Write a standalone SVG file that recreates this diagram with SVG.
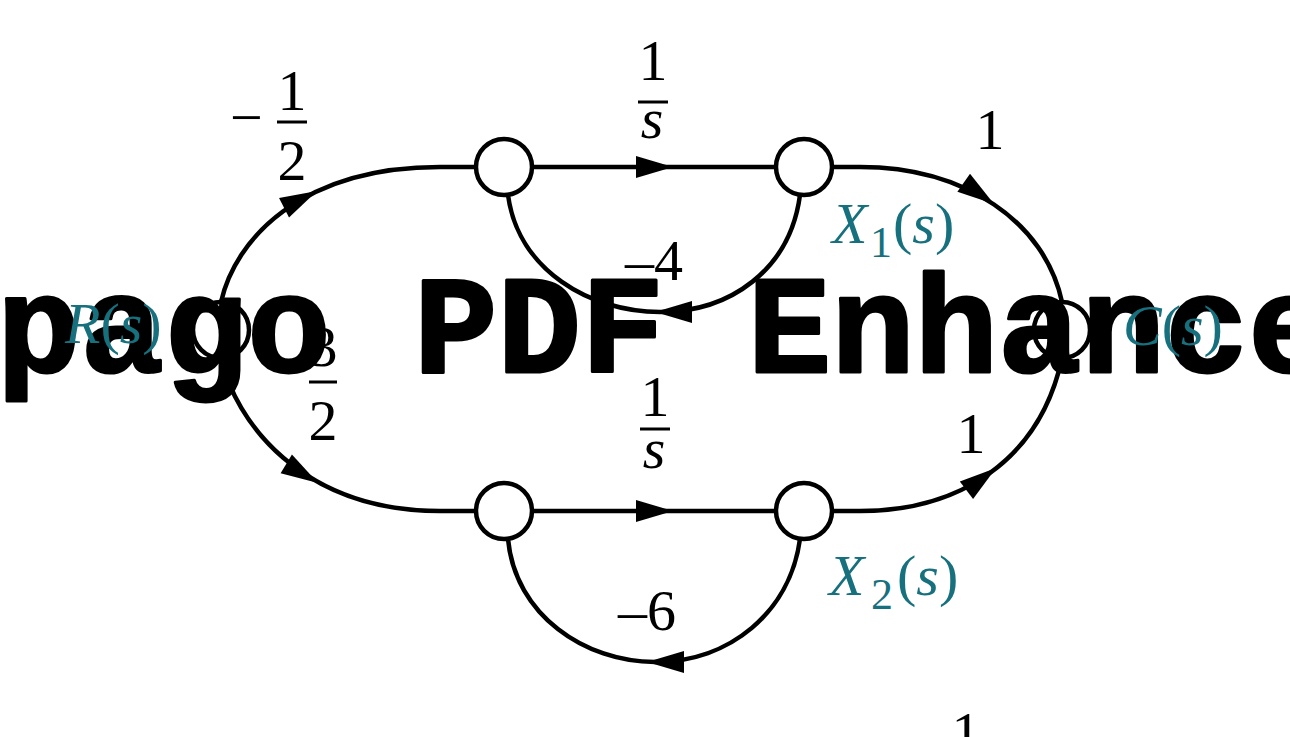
<svg xmlns="http://www.w3.org/2000/svg" xmlns:xlink="http://www.w3.org/1999/xlink" width="1290" height="737" viewBox="0 0 1290 737">
<style>
.wm{font-family:"Courier New","Nimbus Mono PS","Liberation Mono",monospace;font-weight:bold;font-size:139px;fill:#000;stroke:#000;stroke-width:3;stroke-linejoin:round}
.edge{fill:none;stroke:#000;stroke-width:4.5}
.node{fill:none;stroke:#000;stroke-width:4.5}
.lbl{font-family:"Liberation Serif","Times New Roman",serif;font-size:58px;fill:#000}
.var{font-family:"Liberation Serif","Times New Roman",serif;font-size:58px;fill:#17707e}
.it{font-style:italic}
.sub{font-size:44px}
.bar{stroke:#000;stroke-width:3}
</style>
<defs>
<path id="ah" d="M0,0 L-37,-11 L-37,11 Z" fill="#000"/>
</defs>
<rect width="1290" height="737" fill="#fff"/>
<g id="watermark">
<text class="wm" x="-3" y="372">pago PDF Enhance</text>
</g>
<g id="connectors">
<path class="edge" d="M221,302 C235,240 300,167 440,167 L476,167"/>
<path class="edge" d="M532,167 L776,167"/>
<path class="edge" d="M800,195 C790,270 730,312 660,312 C590,312 518,270 508,195"/>
<path class="edge" d="M832,167 L860,167 C965,167 1045,222 1062,302"/>
<path class="edge" d="M221,358 C235,420 300,511 440,511 L476,511"/>
<path class="edge" d="M532,511 L776,511"/>
<path class="edge" d="M800,539 C790,612 730,662 655,662 C585,662 515,615 508,539"/>
<path class="edge" d="M832,511 L860,511 C960,511 1040,460 1062,358"/>
<use xlink:href="#ah" transform="translate(317,191) rotate(-27)"/>
<use xlink:href="#ah" transform="translate(673,167)"/>
<use xlink:href="#ah" transform="translate(655,312) rotate(180)"/>
<use xlink:href="#ah" transform="translate(994,204) rotate(35)"/>
<use xlink:href="#ah" transform="translate(318,483) rotate(31)"/>
<use xlink:href="#ah" transform="translate(673,511)"/>
<use xlink:href="#ah" transform="translate(647,662) rotate(180)"/>
<use xlink:href="#ah" transform="translate(996,468) rotate(-37)"/>
<text class="lbl" x="230" y="137">−</text>
<text class="lbl" x="292" y="110" text-anchor="middle">1</text>
<line class="bar" x1="277" y1="122" x2="307" y2="122"/>
<text class="lbl" x="292" y="180" text-anchor="middle">2</text>
<text class="lbl" x="653" y="80" text-anchor="middle">1</text>
<line class="bar" x1="638" y1="102" x2="668" y2="102"/>
<text class="lbl it" x="652" y="138" text-anchor="middle">s</text>
<text class="lbl" x="625" y="280">–4</text>
<text class="lbl" x="990" y="149" text-anchor="middle">1</text>
<text class="lbl" x="323" y="366" text-anchor="middle">3</text>
<line class="bar" x1="309" y1="382" x2="337" y2="382"/>
<text class="lbl" x="323" y="440" text-anchor="middle">2</text>
<text class="lbl" x="655" y="416" text-anchor="middle">1</text>
<line class="bar" x1="640" y1="429" x2="670" y2="429"/>
<text class="lbl it" x="654" y="468" text-anchor="middle">s</text>
<text class="lbl" x="971" y="453" text-anchor="middle">1</text>
<text class="lbl" x="618" y="630">–6</text>
<text class="lbl" x="966" y="752" text-anchor="middle">1</text>
</g>
<g id="node-R">
<circle class="node" cx="221" cy="330" r="28"/>
<text class="var" x="65" y="343"><tspan class="it">R</tspan>(<tspan class="it">s</tspan>)</text>
</g>
<g id="node-A">
<circle class="node" cx="504" cy="167" r="28"/>
</g>
<g id="node-X1">
<circle class="node" cx="804" cy="167" r="28"/>
<text class="var" x="832" y="243"><tspan class="it">X</tspan><tspan class="sub" x="870" y="257">1</tspan><tspan x="893" y="243">(</tspan><tspan class="it">s</tspan>)</text>
</g>
<g id="node-B">
<circle class="node" cx="504" cy="511" r="28"/>
</g>
<g id="node-X2">
<circle class="node" cx="804" cy="511" r="28"/>
<text class="var" x="829" y="595"><tspan class="it">X</tspan><tspan class="sub" x="871" y="609">2</tspan><tspan x="897" y="595">(</tspan><tspan class="it">s</tspan>)</text>
</g>
<g id="node-C">
<circle class="node" cx="1062" cy="330" r="28"/>
<text class="var" x="1123" y="345"><tspan class="it">C</tspan>(<tspan class="it">s</tspan>)</text>
</g>
</svg>
